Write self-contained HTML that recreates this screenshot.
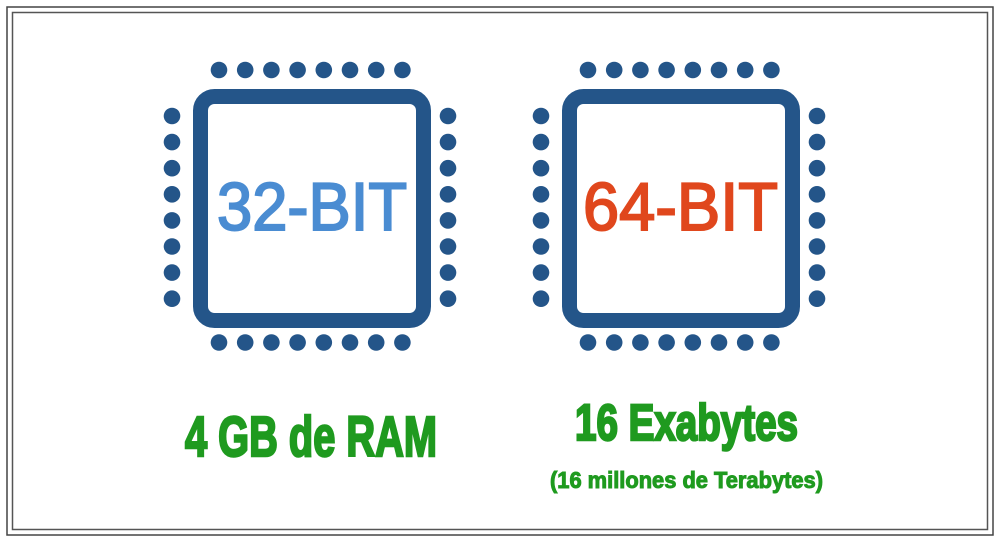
<!DOCTYPE html>
<html><head><meta charset="utf-8"><style>
html,body{margin:0;padding:0;background:#fff;}
svg{display:block;}
</style></head><body>
<svg width="1000" height="542" viewBox="0 0 1000 542" xmlns="http://www.w3.org/2000/svg">
<rect x="0" y="0" width="1000" height="542" fill="#fff"/>
<rect x="7" y="7" width="986" height="528" fill="none" stroke="#444" stroke-width="1.5"/>
<rect x="12.5" y="12.5" width="975" height="517" fill="none" stroke="#555" stroke-width="1.5"/>
<defs>
<g id="chip">
<rect x="200.5" y="96.5" width="223" height="224" rx="14" fill="#fff" stroke="#245589" stroke-width="15"/>
<g fill="#245589">
<circle cx="219" cy="70" r="8.3"/><circle cx="245.2" cy="70" r="8.3"/><circle cx="271.4" cy="70" r="8.3"/><circle cx="297.6" cy="70" r="8.3"/><circle cx="323.8" cy="70" r="8.3"/><circle cx="350" cy="70" r="8.3"/><circle cx="376.2" cy="70" r="8.3"/><circle cx="402.4" cy="70" r="8.3"/>
<circle cx="219" cy="342.5" r="8.3"/><circle cx="245.2" cy="342.5" r="8.3"/><circle cx="271.4" cy="342.5" r="8.3"/><circle cx="297.6" cy="342.5" r="8.3"/><circle cx="323.8" cy="342.5" r="8.3"/><circle cx="350" cy="342.5" r="8.3"/><circle cx="376.2" cy="342.5" r="8.3"/><circle cx="402.4" cy="342.5" r="8.3"/>
<circle cx="172" cy="116" r="8.3"/><circle cx="172" cy="142.1" r="8.3"/><circle cx="172" cy="168.2" r="8.3"/><circle cx="172" cy="194.3" r="8.3"/><circle cx="172" cy="220.4" r="8.3"/><circle cx="172" cy="246.5" r="8.3"/><circle cx="172" cy="272.6" r="8.3"/><circle cx="172" cy="298.7" r="8.3"/>
<circle cx="448" cy="116" r="8.3"/><circle cx="448" cy="142.1" r="8.3"/><circle cx="448" cy="168.2" r="8.3"/><circle cx="448" cy="194.3" r="8.3"/><circle cx="448" cy="220.4" r="8.3"/><circle cx="448" cy="246.5" r="8.3"/><circle cx="448" cy="272.6" r="8.3"/><circle cx="448" cy="298.7" r="8.3"/>
</g>
</g>
</defs>
<use href="#chip"/>
<use href="#chip" transform="translate(369,0)"/>
<text x="217" y="230" font-family="'Liberation Sans',sans-serif" font-size="68" fill="#4a8cd2" stroke="#4a8cd2" stroke-width="2" textLength="190" lengthAdjust="spacingAndGlyphs">32-BIT</text>
<text x="583" y="230" font-family="'Liberation Sans',sans-serif" font-size="68" fill="#e0471d" stroke="#e0471d" stroke-width="2" textLength="195" lengthAdjust="spacingAndGlyphs">64-BIT</text>
<g font-family="'Liberation Sans Narrow','Liberation Sans',sans-serif" font-weight="bold" fill="#1f9a1f" stroke="#1f9a1f">
<text x="185" y="456" font-size="57" stroke-width="2.5" textLength="252" lengthAdjust="spacingAndGlyphs">4 GB de RAM</text>
<text x="575" y="440" font-size="51" stroke-width="2.5" textLength="223" lengthAdjust="spacingAndGlyphs">16 Exabytes</text>
<text x="550" y="488" font-size="23" stroke-width="1" textLength="273" lengthAdjust="spacingAndGlyphs">(16 millones de Terabytes)</text>
</g>
</svg>
</body></html>
